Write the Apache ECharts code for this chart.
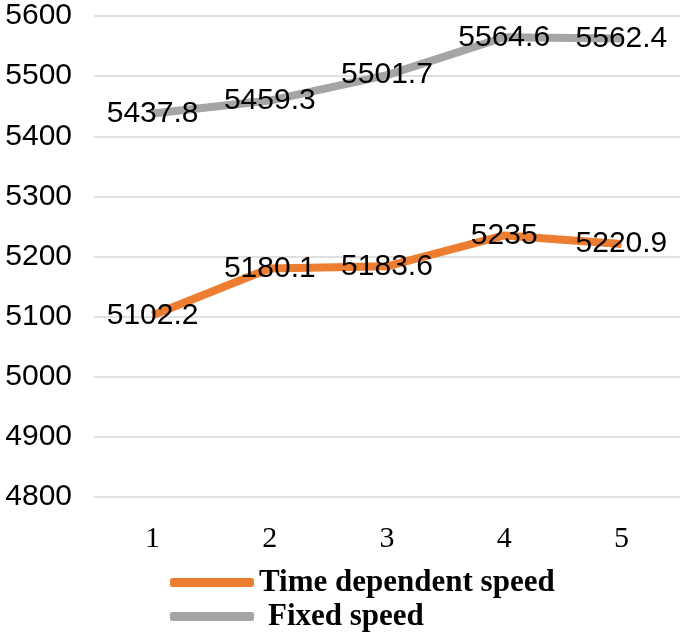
<!DOCTYPE html>
<html><head><meta charset="utf-8">
<script src="https://cdn.jsdelivr.net/npm/echarts@6/dist/echarts.min.js"></script>
<style>html,body{margin:0;padding:0;background:#fff}#c{width:685px;height:635px}</style>
</head><body><div id="c"></div>
<script>
const categories = ['1','2','3','4','5'];
const timeDependent = [5102.2, 5180.1, 5183.6, 5235, 5220.9];
const fixedSpeed = [5437.8, 5459.3, 5501.7, 5564.6, 5562.4];
const seriesNames = ['Time dependent speed', 'Fixed speed'];
const yMin = 4800, yMax = 5600, yStep = 100;

const chart = echarts.init(document.getElementById('c'), null, {renderer:'canvas'});
const labelStyle = {show:true, position:'inside', fontFamily:'Liberation Sans', fontSize:30, color:'#000', formatter: p => String(p.value)};
const legendText = {fontFamily:'Liberation Serif', fontSize:31, fontWeight:'bold', color:'#000'};
chart.setOption({
  animation:false,
  backgroundColor:'#fff',
  grid:{left:94, right:5, top:16, bottom:138, containLabel:false, outerBoundsMode:'none'},
  xAxis:{type:'category', data:categories, boundaryGap:true,
    axisLine:{show:false}, axisTick:{show:false},
    axisLabel:{fontFamily:'Liberation Serif', fontSize:30, color:'#000', margin:27}},
  yAxis:{type:'value', min:yMin, max:yMax, interval:yStep,
    axisLine:{show:false}, axisTick:{show:false},
    axisLabel:{fontFamily:'Liberation Sans', fontSize:30, color:'#000', margin:22, formatter: v => String(v)},
    splitLine:{lineStyle:{color:'#d4d4d4', width:1.5}}},
  legend:[
    {left:165, top:562, itemWidth:84, itemHeight:9, icon:'roundRect', textStyle:legendText, data:[seriesNames[0]]},
    {left:165, top:596, itemWidth:84, itemHeight:9, icon:'roundRect', textStyle:Object.assign({}, legendText, {padding:[0,0,0,9]}), data:[seriesNames[1]]}
  ],
  series:[
    {name:seriesNames[0], type:'line', data:timeDependent, symbol:'circle', symbolSize:1, showSymbol:true, color:'#ED7D31',
      itemStyle:{color:'#ED7D31'}, lineStyle:{width:8, color:'#ED7D31', join:'round'}, label:labelStyle},
    {name:seriesNames[1], type:'line', data:fixedSpeed, symbol:'circle', symbolSize:1, showSymbol:true, color:'#A5A5A5',
      itemStyle:{color:'#A5A5A5'}, lineStyle:{width:8, color:'#A5A5A5', join:'round'}, label:labelStyle}
  ]
});
</script></body></html>
